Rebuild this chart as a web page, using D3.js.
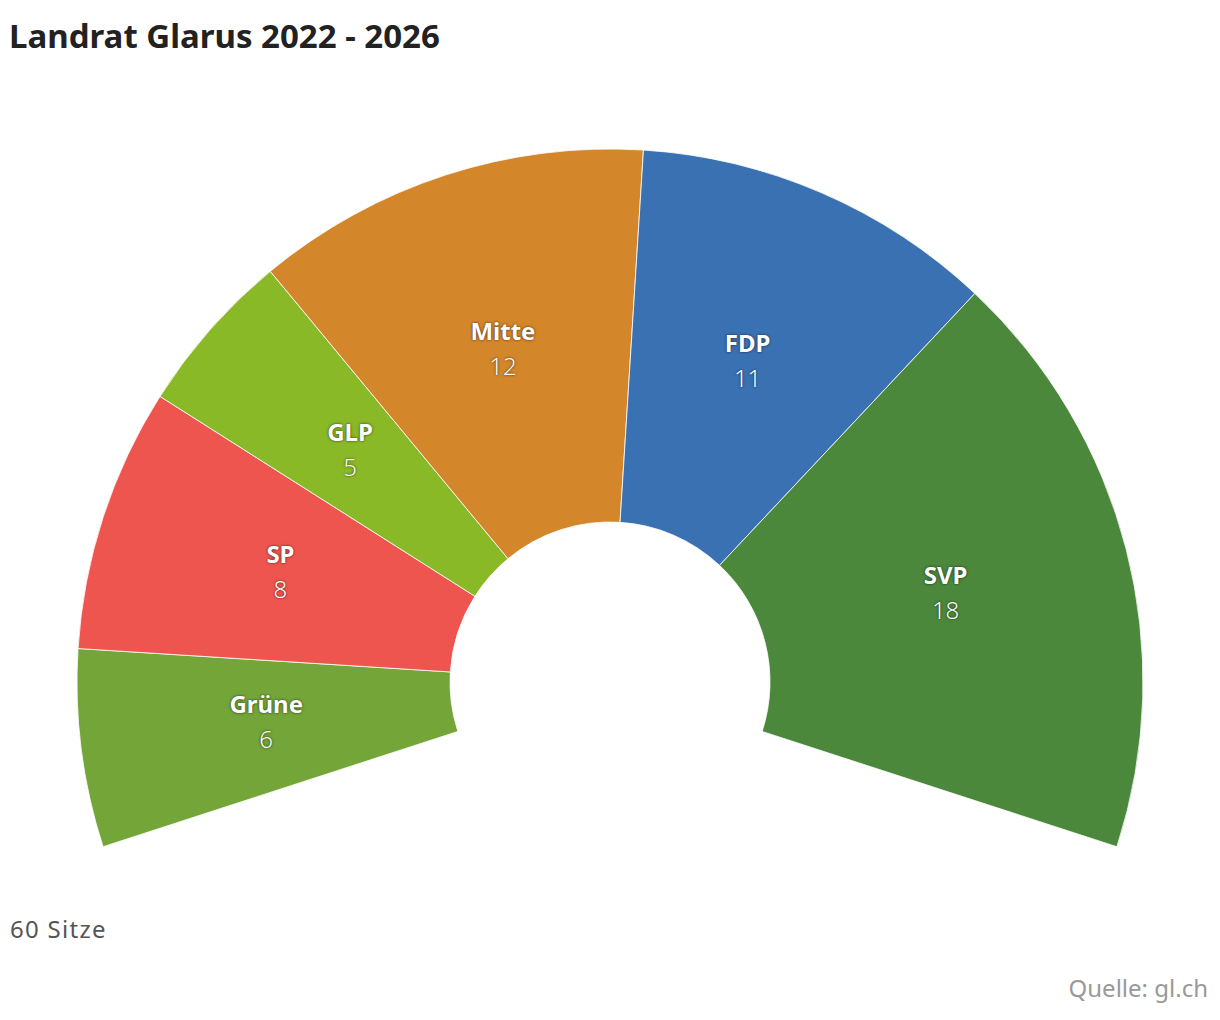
<!DOCTYPE html>
<html>
<head>
<meta charset="utf-8">
<script src="https://cdn.jsdelivr.net/npm/d3@7"></script>
<style>
  body { margin: 0; background: #fff; }
  svg text { font-family: "Noto Sans", "Open Sans", sans-serif; }
  .lbl { text-shadow: 0 0 3px rgba(0,0,0,0.55), 0 0 1px rgba(0,0,0,0.4); }
</style>
</head>
<body>
<div id="chart"></div>
<script>
// parties, in order from left to right
const parties = ["Grüne", "SP", "GLP", "Mitte", "FDP", "SVP"]
const seats = [6, 8, 5, 12, 11, 18]
const colors = ["#73a538", "#ef554f", "#8ab927", "#d4862b", "#3a71b3", "#4b883c"]

const width = 1220, height = 1020
const cx = 610, cy = 682
const rInner = 160, rOuter = 533
const span = 108 * Math.PI / 180

let svg = d3.select("#chart").append("svg")
  .attr("width", width)
  .attr("height", height)

// title
svg.append("text")
  .attr("x", 9)
  .attr("y", 48)
  .style("font-size", "33px")
  .style("font-weight", 700)
  .style("fill", "#222")
  .text("Landrat Glarus 2022 - 2026")

let data = parties.map((p, i) => ({ party: p, value: seats[i], color: colors[i] }))

let pie = d3.pie()
  .value(d => d.value)
  .sort(null)
  .startAngle(-span)
  .endAngle(span)

let arc = d3.arc()
  .innerRadius(rInner)
  .outerRadius(rOuter)

let g = svg.append("g")
  .attr("transform", "translate(" + cx + "," + cy + ")")

let arcs = pie(data)

g.selectAll("path")
  .data(arcs)
  .enter()
  .append("path")
  .attr("d", arc)
  .attr("fill", d => d.data.color)
  .attr("stroke", "#fff")
  .attr("stroke-width", 0.8)

// labels at the centroid
let labels = g.selectAll("g.lbl")
  .data(arcs)
  .enter()
  .append("g")
  .attr("class", "lbl")
  .attr("transform", d => "translate(" + arc.centroid(d) + ")")

labels.append("text")
  .attr("y", -12)
  .attr("text-anchor", "middle")
  .style("font-size", "24px")
  .style("font-weight", 700)
  .style("fill", "#fff")
  .text(d => d.data.party)

labels.append("text")
  .attr("y", 23)
  .attr("text-anchor", "middle")
  .style("font-size", "24px")
  .style("font-weight", 300)
  .style("fill", "#fff")
  .text(d => d.data.value)

// footer
svg.append("text")
  .attr("x", 10)
  .attr("y", 938)
  .style("font-size", "24px")
  .style("letter-spacing", "1.3px")
  .style("fill", "#555")
  .text(d3.sum(seats) + " Sitze")

svg.append("text")
  .attr("x", 1208)
  .attr("y", 997)
  .attr("text-anchor", "end")
  .style("font-size", "24px")
  .style("fill", "#999")
  .text("Quelle: gl.ch")
</script>
</body>
</html>
